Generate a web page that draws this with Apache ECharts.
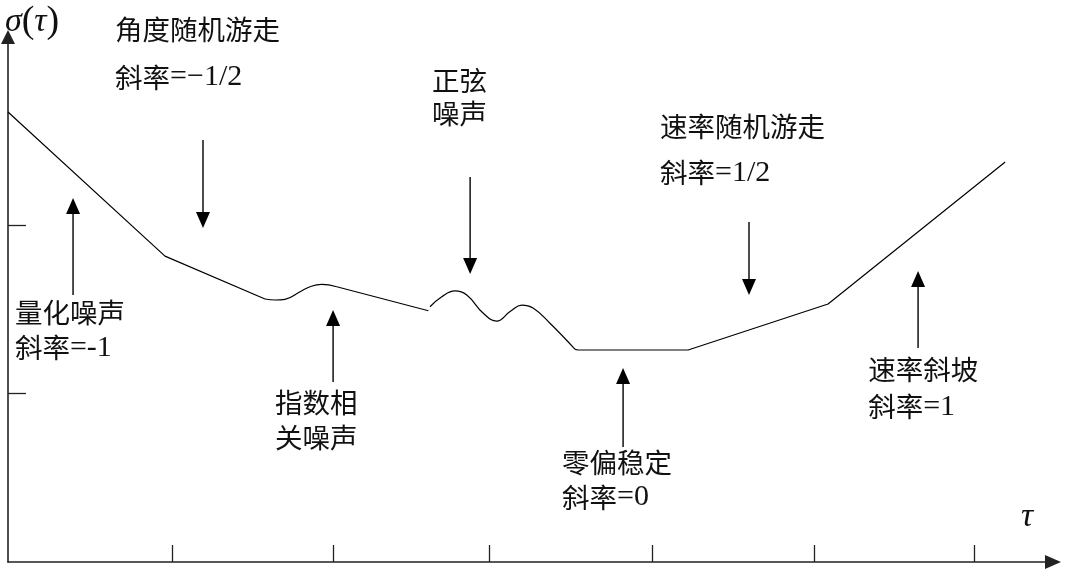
<!DOCTYPE html>
<html><head><meta charset="utf-8">
<script src="https://cdn.jsdelivr.net/npm/echarts@6/dist/echarts.min.js"></script>
<style>html,body{margin:0;padding:0;background:#fff}#c{width:1075px;height:585px}</style>
</head><body><div id="c"></div>
<script>
// ---- axis ticks (τ axis and σ axis, in figure units) ----
const xTicks = [1.02, 2.02, 2.99, 4.0, 5.01, 6.0];
const yTicks = [1, 2];

// ---- curve pieces (τ, σ) ----
const quantLine = [[0, 2.674], [0.975, 1.818], [1.596, 1.563]];
const expBump = [[1.596, 1.563], [1.660, 1.557], [1.720, 1.561], [1.814, 1.606], [1.876, 1.636], [1.948, 1.650], [2.042, 1.636]];
const expLine = [[2.042, 1.636], [2.611, 1.493]];
const sineWave = [[2.621, 1.517], [2.694, 1.577], [2.776, 1.611], [2.849, 1.587], [2.952, 1.478], [3.035, 1.432], [3.118, 1.488], [3.191, 1.527], [3.263, 1.508], [3.366, 1.419], [3.522, 1.264]];
const tailLine = [[3.522, 1.264], [3.540, 1.260], [4.224, 1.260], [5.093, 1.533], [6.193, 2.377]];

// ---- annotation arrows ----
const arrowX = [0.404, 1.211, 2.019, 2.870, 3.820, 4.602, 5.652];
const arrowTail = [1.587, 2.508, 1.070, 2.288, 0.683, 2.021, 1.272];
const arrowTip = [2.163, 1.985, 1.498, 1.712, 1.153, 1.587, 1.729];

// ---- annotation texts ----
const labelText = ['角度随机游走', '斜率=−1/2', '正弦', '噪声', '速率随机游走', '斜率=1/2', '量化噪声', '斜率=-1', '指数相', '关噪声', '零偏稳定', '斜率=0', '速率斜坡', '斜率=1'];
const labelX = [0.665, 0.665, 2.634, 2.634, 4.050, 4.050, 0.043, 0.043, 1.658, 1.658, 3.441, 3.441, 5.342, 5.342];
const labelY = [3.162, 2.882, 2.864, 2.668, 2.585, 2.312, 1.480, 1.272, 0.945, 0.737, 0.594, 0.386, 1.141, 0.921];

const yAxisName = ['σ', '(', 'τ', ')'];
const yNamePos = [-0.019, 3.209];
const xAxisName = 'τ';
const xNamePos = [6.329, 0.267];

const X_MAX = 6.49, Y_MAX = 3.12;
const HEAD_LEN = 16, HEAD_W = 14;

function lineSeries(data, smooth) {
  return {
    type: 'line', data: data, smooth: smooth ? 0.45 : false, showSymbol: false, silent: true,
    lineStyle: { color: '#000', width: 1.2 }, animation: false, z: 3
  };
}

const option = {
  animation: false,
  grid: { left: 8, right: 22, top: 37, bottom: 23, containLabel: false },
  xAxis: {
    type: 'value', min: 0, max: X_MAX,
    axisLine: { show: true, onZero: false, symbol: ['none', 'triangle'], symbolSize: [HEAD_W, HEAD_LEN], lineStyle: { color: '#222', width: 1.6 } },
    axisTick: { show: true, inside: true, length: 17, customValues: xTicks, lineStyle: { color: '#222', width: 1.3 } },
    axisLabel: { show: false },
    splitLine: { show: false }
  },
  yAxis: {
    type: 'value', min: 0, max: Y_MAX,
    axisLine: { show: true, onZero: false, symbol: ['none', 'triangle'], symbolSize: [HEAD_W, HEAD_LEN - 2], lineStyle: { color: '#222', width: 1.6 } },
    axisTick: { show: true, inside: true, length: 18, customValues: yTicks, lineStyle: { color: '#222', width: 1.3 } },
    axisLabel: { show: false },
    splitLine: { show: false }
  },
  series: [
    lineSeries(quantLine, false),
    lineSeries(expBump, true),
    lineSeries(expLine, false),
    lineSeries(sineWave, true),
    lineSeries(tailLine, false)
  ]
};

const chart = echarts.init(document.getElementById('c'), null, { renderer: 'canvas' });
chart.setOption(option);

const toPx = p => chart.convertToPixel({ gridIndex: 0 }, p);
const CJK_FONT = '"Noto Sans CJK SC"';
const LAT_FONT = '"Liberation Serif", "Times New Roman", serif';
const rich = {
  c: { fontFamily: CJK_FONT, fontSize: 27.5, fill: '#111', lineHeight: 32 },
  l: { fontFamily: LAT_FONT, fontSize: 30, fill: '#111', lineHeight: 32 },
  i: { fontFamily: LAT_FONT, fontSize: 34, fontStyle: 'italic', fill: '#111', lineHeight: 40 },
  p: { fontFamily: LAT_FONT, fontSize: 38, fill: '#111', lineHeight: 40 }
};
function toRich(s) {
  return (s.match(/[\u4e00-\u9fff]+|[^\u4e00-\u9fff]+/g) || []).map(r => (/[\u4e00-\u9fff]/.test(r) ? '{c|' : '{l|') + r + '}').join('');
}

const graphics = [];
arrowX.forEach((x, i) => {
  const tail = toPx([x, arrowTail[i]]), tip = toPx([x, arrowTip[i]]);
  const dir = Math.sign(tip[1] - tail[1]);
  const base = tip[1] - dir * HEAD_LEN;
  graphics.push({ type: 'line', silent: true, shape: { x1: tail[0], y1: tail[1], x2: tip[0], y2: base }, style: { stroke: '#000', lineWidth: 1.4 } });
  graphics.push({ type: 'polygon', silent: true, shape: { points: [[tip[0], tip[1]], [tip[0] - HEAD_W / 2, base], [tip[0] + HEAD_W / 2, base]] }, style: { fill: '#000' } });
});
labelText.forEach((t, i) => {
  const p = toPx([labelX[i], labelY[i]]);
  graphics.push({ type: 'text', silent: true, x: p[0], y: p[1], style: { text: toRich(t), rich: rich, align: 'left', verticalAlign: 'middle' } });
});
const yn = toPx(yNamePos);
graphics.push({ type: 'text', silent: true, x: yn[0], y: yn[1], z: 10, style: {
  text: '{i|' + yAxisName[0] + '}{p|' + yAxisName[1] + '}{i|' + yAxisName[2] + '}{p|' + yAxisName[3] + '}', rich: rich, align: 'left', verticalAlign: 'middle' } });
const xn = toPx(xNamePos);
graphics.push({ type: 'text', silent: true, x: xn[0], y: xn[1], style: { text: '{i|' + xAxisName + '}', rich: rich, align: 'center', verticalAlign: 'middle' } });

chart.setOption({ graphic: graphics });
</script>
</body></html>
